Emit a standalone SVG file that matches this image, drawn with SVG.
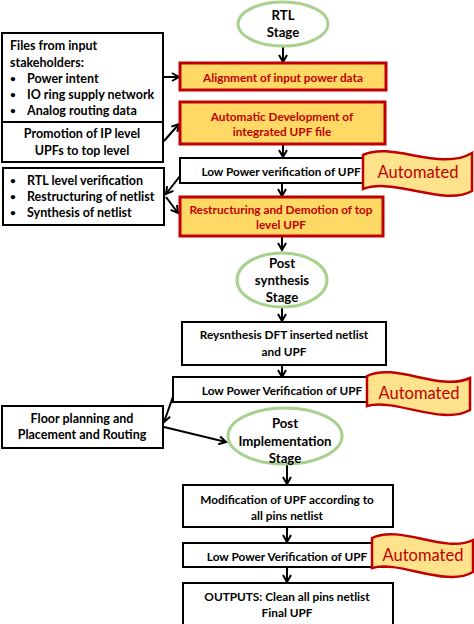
<svg xmlns="http://www.w3.org/2000/svg" width="474" height="624" viewBox="0 0 474 624">
<defs>
<marker id="ah" markerWidth="10" markerHeight="10" refX="8" refY="5" orient="auto" markerUnits="userSpaceOnUse">
<path d="M1,1 L8,5 L1,9" fill="none" stroke="#000" stroke-width="2"/>
</marker>
<style>
.t{font-family:Lato,"Liberation Sans",sans-serif;font-weight:bold;font-size:11.8px;fill:#000;text-anchor:middle;dominant-baseline:central}
.e{font-size:13.2px}
.tl{font-family:Lato,"Liberation Sans",sans-serif;font-weight:bold;font-size:12.5px;fill:#000;dominant-baseline:central}
.b{font-size:10px}
.tc{text-anchor:middle}
.red{fill:#C00000}
.box{fill:#fff;stroke:#000;stroke-width:2}
.ybox{fill:#FFD966;stroke:#C00000;stroke-width:3}
.ell{fill:#fff;stroke:#A9D18E;stroke-width:3}
.ban{fill:#FFE28C;stroke:#C00000;stroke-width:2.5}
.at{font-family:Lato,"Liberation Sans",sans-serif;font-size:16.5px;fill:#C00000;text-anchor:middle;dominant-baseline:central}
.c{fill:none;stroke:#000;stroke-width:2;marker-end:url(#ah)}
</style>
</defs>
<rect width="474" height="624" fill="#fff"/>

<g id="connectors">
<line class="c" x1="283" y1="47" x2="283" y2="62"/>
<line class="c" x1="283" y1="145" x2="283" y2="157"/>
<line class="c" x1="282" y1="184" x2="282" y2="196"/>
<line class="c" x1="282" y1="237" x2="282" y2="250"/>
<line class="c" x1="282" y1="306" x2="282" y2="321"/>
<line class="c" x1="282" y1="366" x2="282" y2="377"/>
<line class="c" x1="287" y1="464" x2="287" y2="484"/>
<line class="c" x1="287" y1="528" x2="287" y2="542"/>
<line class="c" x1="287" y1="568" x2="287" y2="582"/>
<line class="c" x1="164" y1="77" x2="179" y2="77"/>
<line class="c" x1="164" y1="141" x2="179" y2="124"/>
<line class="c" x1="180" y1="176" x2="166" y2="194"/>
<line class="c" x1="166" y1="197" x2="178" y2="213"/>
<line class="c" x1="175" y1="391" x2="164" y2="422"/>
<line class="c" x1="164" y1="427" x2="226" y2="442"/>
</g>

<g id="rtl-stage">
<ellipse class="ell" cx="283" cy="24" rx="45" ry="22"/>
<text class="t e" x="283" y="15">RTL</text>
<text class="t e" x="283" y="32">Stage</text>
</g>

<g id="files-input">
<rect class="box" x="2" y="33" width="161" height="89"/>
<text class="tl" x="10" y="45">Files from input</text>
<text class="tl" x="10" y="62">stakeholders:</text>
<text class="tl b" x="10" y="78">•</text><text class="tl" x="27" y="78">Power intent</text>
<text class="tl b" x="10" y="94">•</text><text class="tl" x="27" y="94">IO ring supply network</text>
<text class="tl b" x="10" y="110">•</text><text class="tl" x="27" y="110">Analog routing data</text>
</g>

<g id="promotion">
<rect class="box" x="2" y="122" width="161" height="40"/>
<text class="tl tc" x="82" y="133">Promotion of IP level</text>
<text class="tl tc" x="82" y="150">UPFs to top level</text>
</g>

<g id="rtl-verif">
<rect class="box" x="3" y="168" width="161" height="57"/>
<text class="tl b" x="10" y="180">•</text><text class="tl" x="27" y="180">RTL level  verification</text>
<text class="tl b" x="10" y="196">•</text><text class="tl" x="27" y="196">Restructuring of netlist</text>
<text class="tl b" x="10" y="212">•</text><text class="tl" x="27" y="212">Synthesis of netlist</text>
</g>

<g id="alignment">
<rect class="ybox" x="180" y="63" width="206" height="27"/>
<text class="t red" x="283" y="77">Alignment of input power data</text>
</g>

<g id="auto-dev">
<rect class="ybox" x="180" y="102" width="205" height="42"/>
<text class="t red" x="282" y="116">Automatic Development of</text>
<text class="t red" x="282" y="131">integrated UPF file</text>
</g>

<g id="lpv1">
<rect class="box" x="180" y="158" width="200" height="25"/>
<text class="t" x="281" y="171">Low Power verification of UPF</text>
</g>

<g id="banner1">
<path class="ban" d="M363,155 C392,141 440,172 472,153 L472,191 C444,207 394,177 363,189 Z"/>
<text class="at" x="418" y="172">Automated</text>
</g>

<g id="restructuring">
<rect class="ybox" x="180" y="197" width="203" height="39"/>
<text class="t red" x="281" y="209">Restructuring and Demotion of top</text>
<text class="t red" x="281" y="224">level UPF</text>
</g>

<g id="post-synth">
<ellipse class="ell" cx="282" cy="280" rx="45" ry="27"/>
<text class="t e" x="282" y="263">Post</text>
<text class="t e" x="282" y="280">synthesis</text>
<text class="t e" x="282" y="297">Stage</text>
</g>

<g id="resynth">
<rect class="box" x="182" y="322" width="204" height="43"/>
<text class="t" x="284" y="334">Reysnthesis DFT inserted netlist</text>
<text class="t" x="284" y="351">and UPF</text>
</g>

<g id="lpv2">
<rect class="box" x="173" y="377" width="207" height="25"/>
<text class="t" x="282" y="390">Low Power Verification of UPF</text>
</g>

<g id="banner2">
<path class="ban" d="M367,376 C395,362 440,392 470,378 L470,410 C442,426 395,398 367,406 Z"/>
<text class="at" x="419" y="393">Automated</text>
</g>

<g id="floor">
<rect class="box" x="2" y="406" width="161" height="42"/>
<text class="tl tc" x="82" y="418">Floor planning and</text>
<text class="tl tc" x="82" y="434">Placement and Routing</text>
</g>

<g id="post-impl">
<ellipse class="ell" cx="285" cy="436" rx="57" ry="28"/>
<text class="t e" x="285" y="423">Post</text>
<text class="t e" x="285" y="441">Implementation</text>
<text class="t e" x="285" y="458">Stage</text>
</g>

<g id="modification">
<rect class="box" x="183" y="485" width="210" height="42"/>
<text class="t" x="287" y="499">Modification of UPF according to</text>
<text class="t" x="287" y="515">all pins netlist</text>
</g>

<g id="lpv3">
<rect class="box" x="183" y="543" width="207" height="24"/>
<text class="t" x="287" y="556">Low Power Verification of UPF</text>
</g>

<g id="banner3">
<path class="ban" d="M372,538 C400,524 445,554 473,540 L473,572 C446,588 400,560 372,568 Z"/>
<text class="at" x="423" y="555">Automated</text>
</g>

<g id="outputs">
<rect class="box" x="183" y="583" width="210" height="45"/>
<text class="t" x="287" y="596">OUTPUTS: Clean all pins netlist</text>
<text class="t" x="287" y="612">Final UPF</text>
</g>
</svg>
